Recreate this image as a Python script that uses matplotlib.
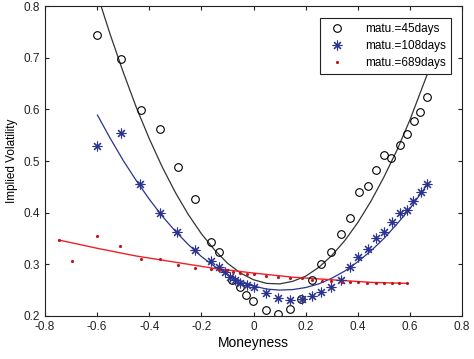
import matplotlib
matplotlib.use('Agg')
import matplotlib.pyplot as plt

plt.rcParams['font.family'] = ['Liberation Sans', 'DejaVu Sans']

# observed implied volatilities
x_45 = [-0.600, -0.510, -0.433, -0.359, -0.289, -0.223, -0.164, -0.132, -0.081, -0.054,
        -0.029, -0.003, 0.047, 0.095, 0.140, 0.182, 0.223, 0.259, 0.296, 0.335,
        0.370, 0.406, 0.437, 0.470, 0.500, 0.528, 0.560, 0.589, 0.615, 0.640, 0.667]
y_45 = [0.744, 0.697, 0.598, 0.562, 0.489, 0.426, 0.344, 0.323, 0.270, 0.256,
        0.241, 0.229, 0.212, 0.204, 0.214, 0.232, 0.270, 0.300, 0.324, 0.359,
        0.389, 0.440, 0.452, 0.482, 0.511, 0.506, 0.531, 0.553, 0.578, 0.594, 0.624]

x_108 = [-0.599, -0.510, -0.436, -0.359, -0.292, -0.226, -0.164, -0.132, -0.109, -0.090,
         -0.070, -0.052, -0.026, 0.000, 0.048, 0.093, 0.140, 0.185, 0.223, 0.259,
         0.296, 0.335, 0.370, 0.402, 0.437, 0.470, 0.500, 0.530, 0.560, 0.588,
         0.613, 0.642, 0.667]
y_108 = [0.530, 0.555, 0.455, 0.400, 0.362, 0.328, 0.307, 0.294, 0.286, 0.276,
         0.270, 0.263, 0.260, 0.256, 0.244, 0.235, 0.231, 0.233, 0.239, 0.247,
         0.256, 0.270, 0.295, 0.314, 0.330, 0.350, 0.362, 0.382, 0.400, 0.406,
         0.422, 0.440, 0.455]

x_689 = [-0.747, -0.695, -0.599, -0.512, -0.432, -0.359, -0.289, -0.226, -0.164, -0.132,
         -0.103, -0.080, -0.052, -0.026, 0.000, 0.048, 0.094, 0.140, 0.186, 0.223,
         0.262, 0.297, 0.339, 0.370, 0.401, 0.435, 0.470, 0.500, 0.531, 0.559, 0.589]
y_689 = [0.347, 0.307, 0.355, 0.336, 0.310, 0.311, 0.299, 0.292, 0.291, 0.289,
         0.288, 0.286, 0.283, 0.281, 0.281, 0.277, 0.275, 0.274, 0.273, 0.270,
         0.268, 0.267, 0.266, 0.265, 0.265, 0.264, 0.264, 0.263, 0.263, 0.263, 0.263]

# fitted smile curves
fx_45 = [-0.585, -0.55, -0.5, -0.45, -0.4, -0.35, -0.3, -0.25, -0.2, -0.15, -0.1, -0.05, 0.0,
         0.05, 0.1, 0.15, 0.2, 0.25, 0.3, 0.35, 0.4, 0.45, 0.5, 0.55, 0.6, 0.667]
fy_45 = [0.800, 0.745, 0.672, 0.604, 0.543, 0.488, 0.439, 0.396, 0.359, 0.328, 0.302, 0.283, 0.270,
         0.263, 0.262, 0.267, 0.277, 0.294, 0.317, 0.346, 0.381, 0.422, 0.469, 0.521, 0.580, 0.669]

fx_108 = [-0.599, -0.55, -0.5, -0.45, -0.4, -0.35, -0.3, -0.25, -0.2, -0.15, -0.1, -0.05, 0.0,
          0.05, 0.1, 0.15, 0.2, 0.25, 0.3, 0.35, 0.4, 0.45, 0.5, 0.55, 0.6, 0.667]
fy_108 = [0.589, 0.544, 0.501, 0.462, 0.426, 0.393, 0.364, 0.338, 0.315, 0.296, 0.280, 0.268, 0.258,
          0.252, 0.250, 0.251, 0.255, 0.262, 0.273, 0.287, 0.305, 0.326, 0.350, 0.378, 0.408, 0.455]

fx_689 = [-0.747, -0.6, -0.45, -0.3, -0.15, 0.0, 0.15, 0.3, 0.45, 0.589]
fy_689 = [0.347, 0.331, 0.316, 0.304, 0.292, 0.283, 0.275, 0.270, 0.265, 0.263]

xticks = [-0.8, -0.6, -0.4, -0.2, 0, 0.2, 0.4, 0.6, 0.8]
yticks = [0.2, 0.3, 0.4, 0.5, 0.6, 0.7, 0.8]

fig = plt.figure(figsize=(4.74, 3.59), dpi=100)
ax = fig.add_axes([0.095, 0.12, 0.88, 0.863])

blue = '#2b3390'
ax.plot(fx_45, fy_45, color='#333333', lw=0.9)
ax.plot(fx_108, fy_108, color=blue, lw=0.9)
ax.plot(fx_689, fy_689, color='#f0202a', lw=1.0)

ax.plot(x_45, y_45, 'o', mfc='none', mec='black', ms=5.5, mew=0.8, label='matu.=45days')
ax.plot(x_108, y_108, ls='none', marker=(8, 2, 0), color=blue, ms=7, mew=0.8,
        label='matu.=108days')
ax.plot(x_689, y_689, '.', color='#c0141c', ms=2.5, label='matu.=689days')

ax.set_xlim(-0.8, 0.8)
ax.set_ylim(0.2, 0.8)
ax.set_xticks(xticks)
ax.set_xticklabels([str(t) for t in xticks])
ax.set_yticks(yticks)
ax.set_yticklabels([str(t) for t in yticks])
ax.tick_params(direction='in', top=True, right=True, length=3, labelsize=8.5, colors='#222222')
for s in ax.spines.values():
    s.set_linewidth(0.8)
    s.set_color('#222222')

ax.set_xlabel('Moneyness', fontsize=10, labelpad=2)
ax.set_ylabel('Implied Volatility', fontsize=8.5, labelpad=4)

leg = ax.legend(loc='upper right', fontsize=8.5, fancybox=False, framealpha=1,
                edgecolor='#222222', handletextpad=1.4, borderpad=0.45,
                labelspacing=0.4, borderaxespad=0, bbox_to_anchor=(0.974, 0.961))
leg.get_frame().set_linewidth(0.8)

fig.savefig('out.png', dpi=100)
